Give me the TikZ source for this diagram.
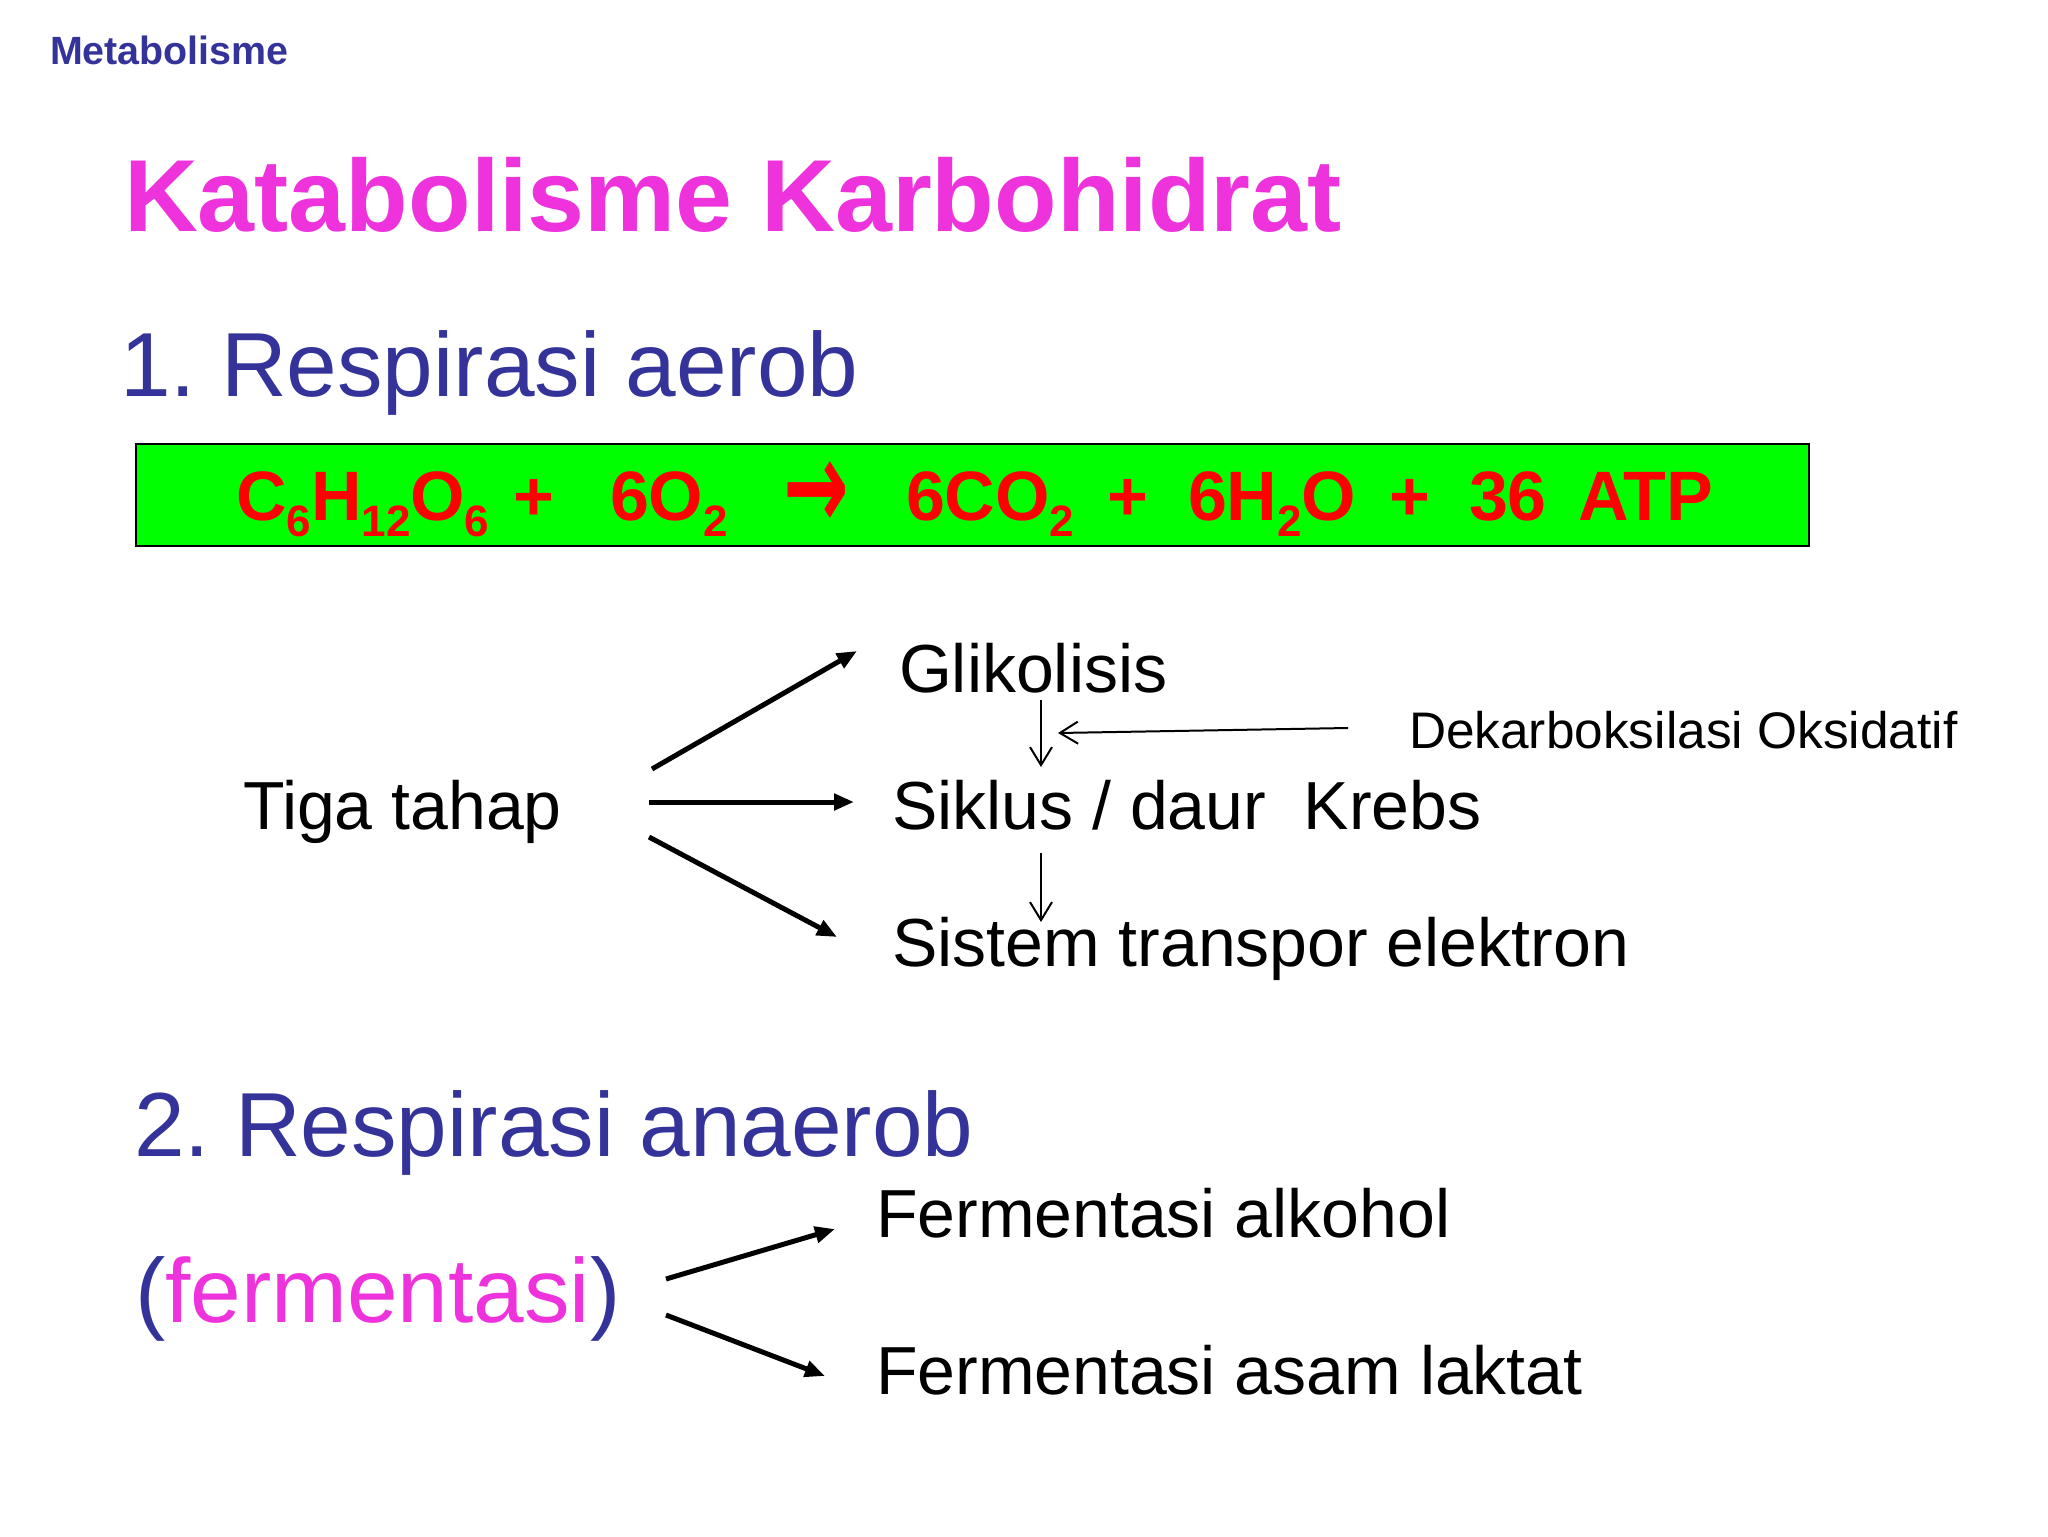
\documentclass[tikz,border=0pt]{standalone}
\usepackage{fontspec}
\setmainfont{Liberation Sans}
\newfontfamily\arrowfont{DejaVu Sans}
\usetikzlibrary{arrows.meta}
\definecolor{navy}{RGB}{51,51,153}
\definecolor{magen}{RGB}{238,51,221}
\definecolor{limegreen}{RGB}{0,255,0}
\definecolor{eqred}{RGB}{255,0,0}
\newcommand\fsz[1]{\fontsize{#1pt}{#1pt}\selectfont}
\newcommand\subs[1]{\raisebox{-8pt}{\fsz{22}#1}}
\frenchspacing
\tikzset{
  txt/.style={anchor=base west,inner sep=0pt,outer sep=0pt},
  body/.style={txt,font=\fsz{34}},
  head/.style={txt,font=\fsz{45.5},text=navy},
  eq/.style={txt,font=\fsz{35}\bfseries,text=eqred},
  thick arrow/.style={line width=2.5pt,-{Triangle[length=10pt,width=8pt]}},
  thin arrow/.style={line width=1pt,-{Straight Barb[length=9pt,width=11pt]}}
}
\begin{document}
\begin{tikzpicture}[x=0.5pt,y=-0.5pt]
\fill[white] (0,0) rectangle (2048,1536);
\useasboundingbox (0,0) rectangle (2048,1536);

\node[txt,font=\fsz{19.7}\bfseries,text=navy] (meta) at (50,65) {Metabolisme};
\node[txt,font=\fsz{51.2}\bfseries,text=magen] (title) at (124,231) {Katabolisme Karbohidrat};
\node[head] (h1) at (120,396) {1. Respirasi aerob};

\draw[line width=1pt,fill=limegreen] (136,444) rectangle (1809,546);
\node[eq] (f1) at (236,520) {C\subs{6}H\subs{12}O\subs{6}};
\node[eq] (f2) at (513,520) {+};
\node[eq] (f3) at (610,520) {6O\subs{2}};
\node[eq] (f4) at (783,520) {\raisebox{-4.5pt}{\scalebox{1.12}[1.8]{\arrowfont\bfseries →}}};
\node[eq] (f5) at (906,520) {6CO\subs{2}};
\node[eq] (f6) at (1107,520) {+};
\node[eq] (f7) at (1188,520) {6H\subs{2}O};
\node[eq] (f8) at (1389,520) {+};
\node[eq] (f9) at (1469,520) {36};
\node[eq] (f10) at (1578,520) {ATP};

\node[body] (tiga) at (243,829) {Tiga tahap};
\node[body] (gli) at (899,692) {Glikolisis};
\node[body] (kreb) at (892,829) {Siklus / daur\ \ Krebs};
\node[body] (ste) at (892,966) {Sistem transpor elektron};
\node[txt,font=\fsz{25.7}] (dek) at (1409,748) {Dekarboksilasi Oksidatif};

\coordinate (a1s) at (652,769); \coordinate (a1e) at (857,651);
\coordinate (a2s) at (649,802); \coordinate (a2e) at (854,802);
\coordinate (a3s) at (649,837); \coordinate (a3e) at (837,937);
\draw[thick arrow] (a1s) -- (a1e);
\draw[thick arrow] (a2s) -- (a2e);
\draw[thick arrow] (a3s) -- (a3e);

\coordinate (v1s) at (1041,700); \coordinate (v1e) at (1041,767);
\coordinate (v2s) at (1041,853); \coordinate (v2e) at (1041,922);
\coordinate (hs) at (1348,728); \coordinate (he) at (1058,733);
\draw[thin arrow] (v1s) -- (v1e);
\draw[thin arrow] (v2s) -- (v2e);
\draw[thin arrow] (hs) -- (he);

\node[head] (h2) at (134,1156) {2. Respirasi anaerob};
\node[head] (ferm) at (135,1322) {(\textcolor{magen}{fermentasi})};
\node[body] (alk) at (876,1237) {Fermentasi alkohol};
\node[body] (lak) at (876,1394) {Fermentasi asam laktat};

\coordinate (b1s) at (666,1279); \coordinate (b1e) at (835,1229);
\coordinate (b2s) at (666,1315); \coordinate (b2e) at (825,1376);
\draw[thick arrow] (b1s) -- (b1e);
\draw[thick arrow] (b2s) -- (b2e);
\end{tikzpicture}
\end{document}
